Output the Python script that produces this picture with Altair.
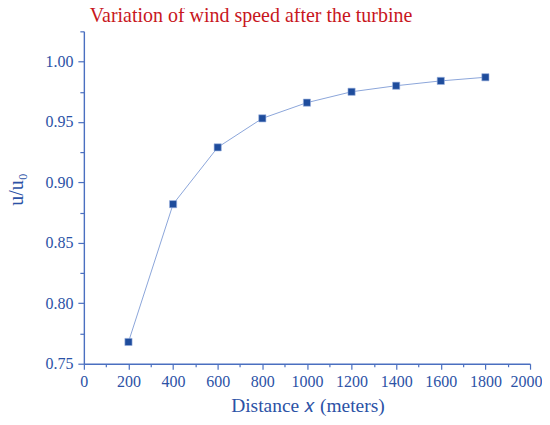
import altair as alt
import pandas as pd

# values
distance = [200, 400, 600, 800, 1000, 1200, 1400, 1600, 1800]
ratio = [0.768, 0.882, 0.929, 0.953, 0.966, 0.975, 0.980, 0.984, 0.987]

x_major = [0, 200, 400, 600, 800, 1000, 1200, 1400, 1600, 1800, 2000]
x_minor = [100, 300, 500, 700, 900, 1100, 1300, 1500, 1700, 1900]
y_major = [0.75, 0.80, 0.85, 0.90, 0.95, 1.00]
y_minor = [0.775, 0.825, 0.875, 0.925, 0.975, 1.025]

AXIS_BLUE = '#4a6fc0'
LABEL_BLUE = '#2c52a6'
SERIF = 'Liberation Serif'

df = pd.DataFrame({'distance': distance, 'ratio': ratio})

x_scale = alt.Scale(domain=[0, 2000], nice=False, zero=False)
y_scale = alt.Scale(domain=[0.75, 1.025], nice=False, zero=False)

# minor ticks only (no line, no labels)
x_minor_axis = alt.Axis(values=x_minor, orient='bottom', domain=False, labels=False,
                        title=None, grid=False, tickSize=3, tickWidth=1.2,
                        tickColor=AXIS_BLUE)
y_minor_axis = alt.Axis(values=y_minor, orient='left', domain=False, labels=False,
                        title=None, grid=False, tickSize=4, tickWidth=1.2,
                        tickColor=AXIS_BLUE)

x_axis = alt.Axis(values=x_major, orient='bottom', grid=False, format='d',
                  domainColor=AXIS_BLUE, domainWidth=1.4,
                  tickColor=AXIS_BLUE, tickWidth=1.2, tickSize=5.5,
                  labelFont=SERIF, labelFontSize=16, labelColor=LABEL_BLUE,
                  labelPadding=4, labelFlush=False,
                  # nudge the last label so it stays inside the page
                  labelOffset={'expr': 'datum.value == 2000 ? -4 : 0'},
                  title='Distance 𝑥 (meters)', titleFont=SERIF, titleFontSize=19.5,
                  titleFontWeight='normal', titleColor=LABEL_BLUE,
                  titleBaseline='alphabetic', titleX=224, titleY=48)
y_axis = alt.Axis(values=y_major, orient='left', grid=False, format='.2f',
                  domainColor=AXIS_BLUE, domainWidth=1.4,
                  tickColor=AXIS_BLUE, tickWidth=1.2, tickSize=6,
                  labelFont=SERIF, labelFontSize=16, labelColor=LABEL_BLUE,
                  labelPadding=5, labelFlush=False,
                  title='u/u₀', titleFont=SERIF, titleFontSize=20,
                  titleFontWeight='normal', titleColor=LABEL_BLUE,
                  titleAngle=-90, titleAlign='center', titleBaseline='alphabetic',
                  titleX=-61, titleY=158)

base = alt.Chart(df)

line = base.mark_line(color='#8ca6da', strokeWidth=1).encode(
    x=alt.X('distance:Q', scale=x_scale, axis=x_minor_axis),
    y=alt.Y('ratio:Q', scale=y_scale, axis=y_minor_axis)
)

points = base.mark_square(size=52, color='#1e4c9c', opacity=1,
                          stroke='#9db3e0', strokeWidth=0.6).encode(
    x=alt.X('distance:Q', scale=x_scale, axis=x_axis),
    y=alt.Y('ratio:Q', scale=y_scale, axis=y_axis)
)

chart = alt.layer(line, points).resolve_axis(
    x='independent', y='independent'
).properties(
    width=447,
    height=333,
    padding={'left': 76, 'top': 23, 'right': 12, 'bottom': 53},
    autosize=alt.AutoSizeParams(type='none'),
    title=alt.TitleParams('Variation of wind speed after the turbine',
                          font=SERIF, fontSize=20, fontWeight='normal',
                          color='#c8161d', anchor='start', frame='group',
                          offset=5, dx=6)
).configure_view(stroke=None)

chart.save('out.html', embed_options={'renderer': 'svg', 'actions': False})
